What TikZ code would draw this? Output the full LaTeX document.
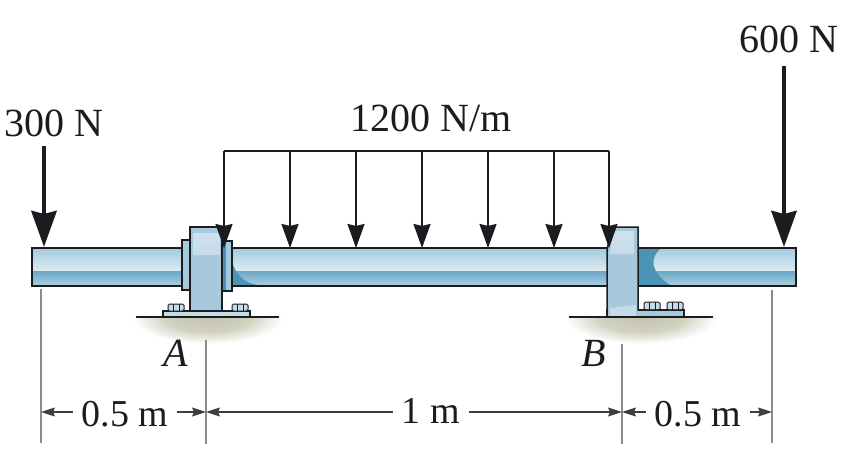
\documentclass[tikz,border=0pt]{standalone}
\usepackage{fontspec}
\setmainfont{Liberation Serif}
\usetikzlibrary{arrows.meta}
\definecolor{ink}{HTML}{1A1C20}
\definecolor{shaftlight}{HTML}{DCEBF2}
\definecolor{shafttop}{HTML}{A6CCDF}
\definecolor{shaftband}{HTML}{6AA6C6}
\definecolor{shaftlow}{HTML}{A9CDE0}
\definecolor{shaftdeep}{HTML}{4C93B6}
\definecolor{brglight}{HTML}{C6DBE8}
\definecolor{brgmid}{HTML}{A6C9DE}
\definecolor{brgpale}{HTML}{CFE1EC}
\definecolor{dimgrey}{HTML}{8A8C8E}
\definecolor{groundc}{HTML}{C2C2AC}
\definecolor{groundd}{HTML}{D2D2C2}
\pgfdeclareradialshading{gshadow}{\pgfpoint{0bp}{0bp}}{color(0bp)=(groundc); color(14bp)=(groundd); color(25bp)=(white); color(50bp)=(white)}
\tikzset{
  x=1pt,y=-1pt,
  lbl/.style={font=\fontsize{40}{42}\selectfont,text=ink,inner sep=0pt},
  ital/.style={font=\fontsize{40}{42}\selectfont\itshape,text=ink,inner sep=0pt},
  dimlbl/.style={text=ink,inner sep=0pt,font=\fontsize{38}{40}\selectfont,fill=white,inner xsep=9pt,inner ysep=1pt},
  bigload/.style={ink,line width=4.8pt,-{Stealth[length=36pt,width=25pt,inset=3pt]}},
  udlload/.style={ink,line width=1.9pt,-{Stealth[length=24pt,width=17pt,inset=2pt]}},
  udltop/.style={ink,line width=1.3pt},
  witness/.style={dimgrey,line width=1.1pt},
  dimline/.style={ink!85,line width=1.1pt},
  dimtip/.style={-{Stealth[length=14pt,width=9pt,inset=2pt]}},
  outline/.style={draw=ink,line width=1.5pt},
  brgfill/.style={outline,fill=brgmid},
  plate/.style={outline,fill=brglight},
  bolt/.style={draw=ink,line width=1pt,fill=brglight,rounded corners=1.5pt},
}
\begin{document}
\begin{tikzpicture}
\useasboundingbox (0,0) rectangle (856,452);
\fill[white] (0,0) rectangle (856,452);

% ground shadows
\begin{scope}
  \clip (120,317) rectangle (295,345);
  \shade[shading=gshadow] (208,317) ellipse [x radius=76, y radius=27];
\end{scope}
\begin{scope}
  \clip (550,317) rectangle (730,345);
  \shade[shading=gshadow] (641,317) ellipse [x radius=76, y radius=27];
\end{scope}

% shaft
\shade[top color=shafttop,bottom color=shaftlight] (32,249) rectangle (796,271);
\shade[top color=shaftband,bottom color=shaftlow] (32,271) rectangle (796,285);
% dark shoulder next to bearing B
\fill[shaftdeep] (638,249) -- (660,249) .. controls (650,258) and (650,272) .. (670,285) -- (638,285) -- cycle;
% dark shoulder next to bearing A
\fill[shaftdeep] (232,262) .. controls (236,275) and (244,283) .. (258,285) -- (232,285) -- cycle;
\draw[ink,line width=1.7pt] (32,248) -- (796,248) -- (796,286) -- (32,286) -- cycle;

% bearing A
\draw[plate] (163,311) rectangle (250,317);
\foreach \bx in {168,232}{
  \draw[bolt] (\bx,304) rectangle (\bx+16,311);
  \draw[ink,line width=.6pt] (\bx+5,304) -- (\bx+5,311) (\bx+11,304) -- (\bx+11,311);
}
\draw[brgfill] (182,240) rectangle (190,290);
\draw[brgfill] (222,241) rectangle (232,291);
\fill[shaftdeep] (223,242) rectangle (226,290);
\draw[brgfill] (190,227) rectangle (222,311);
\shade[top color=brgpale,bottom color=brglight] (193,233) -- (220,233) -- (220,254) -- (193,254) -- cycle;
\draw[ink,line width=1.5pt] (190,227) rectangle (222,311);

% bearing B
\draw[outline,fill=brglight] (607,310) -- (684,310) -- (684,317) -- (607,317) -- cycle;
\foreach \bx in {644,667}{
  \draw[bolt] (\bx,302) rectangle (\bx+16,310);
  \draw[ink,line width=.6pt] (\bx+5,302) -- (\bx+5,310) (\bx+11,302) -- (\bx+11,310);
}
\fill[brgmid] (607,317) -- (607,250) -- (612,227) -- (638,227) -- (638,310) -- (683,310) -- (683,316) -- cycle;
\shade[top color=brgpale,bottom color=brglight] (613,231) -- (634,231) -- (634,254) -- (610,254) -- cycle;
\fill[brglight] (610,308) -- (636,305) -- (636,316) -- (610,316) -- cycle;
\draw[ink,line width=1.5pt] (607,317) -- (607,250) -- (612,227) -- (638,227) -- (638,310) -- (684,310) -- (684,317) -- cycle;

% ground lines
\coordinate (gal) at (136,317); \coordinate (gar) at (279,317);
\coordinate (gbl) at (569,317); \coordinate (gbr) at (713,317);
\draw[ink,line width=1.4pt] (gal) -- (gar);
\draw[ink,line width=1.4pt] (gbl) -- (gbr);

% loads
\coordinate (p3a) at (44,146); \coordinate (p3b) at (44,247);
\coordinate (p6a) at (784,66); \coordinate (p6b) at (784,247);
\draw[bigload] (p3a) -- (p3b);
\draw[bigload] (p6a) -- (p6b);
\coordinate (udlL) at (224,151); \coordinate (udlR) at (609,151);
\draw[udltop] (udlL) -- (udlR);
\foreach \ux/\uend in {224/u1,290/u2,356/u3,422/u4,488/u5,554/u6,609/u7}{
  \coordinate (\uend t) at (\ux,151);
  \coordinate (\uend b) at (\ux,248);
  \draw[udlload] (\uend t) -- (\uend b);
}

% labels
\node[lbl] (l300) at (54,123) {300 N};
\node[lbl] (l600) at (789,39) {600 N};
\node[lbl] (l1200) at (431,118) {1200 N/m};
\node[ital] (lA) at (176,353) {A};
\node[ital] (lB) at (594,353) {B};

% dimension witnesses
\coordinate (w1t) at (41,289); \coordinate (w1b) at (41,443);
\coordinate (w2t) at (206,340); \coordinate (w2b) at (206,444);
\coordinate (w3t) at (622,344); \coordinate (w3b) at (622,444);
\coordinate (w4t) at (772,290); \coordinate (w4b) at (772,443);
\draw[witness] (w1t) -- (w1b);
\draw[witness] (w2t) -- (w2b);
\draw[witness] (w3t) -- (w3b);
\draw[witness] (w4t) -- (w4b);

% dimensions
\coordinate (d1) at (41,412); \coordinate (d2) at (206,412);
\coordinate (d3) at (622,412); \coordinate (d4) at (772,412);
\node[dimlbl] (dA) at (125,414) {0.5 m};
\node[dimlbl] (dB) at (431,411) {1 m};
\node[dimlbl] (dC) at (698,414) {0.5 m};
\draw[dimline,dimtip] (dA.west |- d1) -- (d1);
\draw[dimline,dimtip] (dA.east |- d1) -- (d2);
\draw[dimline,dimtip] (dB.west |- d1) -- (d2);
\draw[dimline,dimtip] (dB.east |- d1) -- (d3);
\draw[dimline,dimtip] (dC.west |- d1) -- (d3);
\draw[dimline,dimtip] (dC.east |- d1) -- (d4);
\end{tikzpicture}
\end{document}
